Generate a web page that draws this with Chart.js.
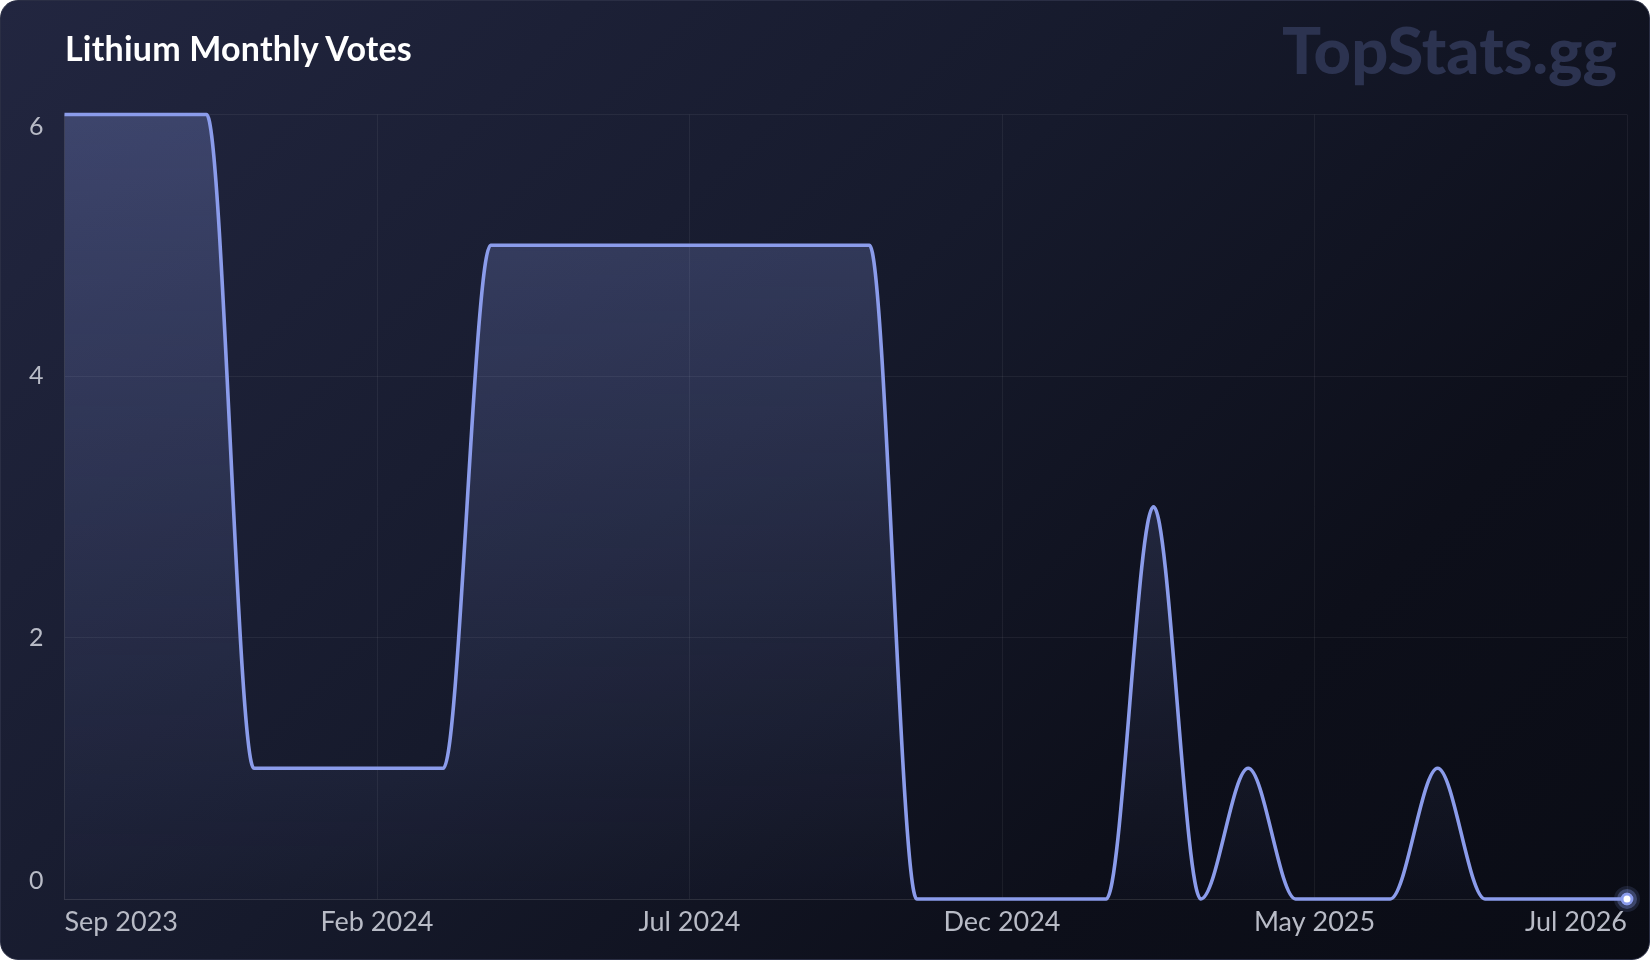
<!DOCTYPE html>
<html>
<head>
<meta charset="utf-8">
<script src="https://cdn.jsdelivr.net/npm/chart.js@4.4.1/dist/chart.umd.min.js"></script>
<style>
  html, body { margin: 0; padding: 0; background: #ffffff; }
  #card {
    position: absolute; left: 0; top: 0; width: 1650px; height: 960px;
    box-sizing: border-box; border-radius: 18px; overflow: hidden;
    border: 1.5px solid #2a2e44;
    background: linear-gradient(135deg, #222640 0%, #161a2c 45%, #0d0f1a 75%, #0a0c15 100%);
  }
  #title {
    position: absolute; left: 64px; top: 27px; margin: 0;
    font-family: Lato, sans-serif; font-weight: 700; font-size: 34px; line-height: 1.2;
    letter-spacing: 0.2px;
    color: #ffffff; white-space: nowrap;
  }
  #brand {
    position: absolute; right: 32px; top: 9px;
    font-family: Lato, sans-serif; font-weight: 900; font-size: 65px; line-height: 1.2;
    color: #2c3350; white-space: nowrap;
  }
  #chartWrap { position: absolute; left: 0; top: 0; width: 1650px; height: 960px; }
</style>
</head>
<body>
<div id="card">
  <div id="chartWrap"><canvas id="c" width="1650" height="960"></canvas></div>
  <div id="title">Lithium Monthly Votes</div>
  <div id="brand">TopStats.gg</div>
</div>
<script>
// ---- data ----
const chartTitle = 'Lithium Monthly Votes';
const votes = [6, 6, 6, 6, 1, 1, 1, 1, 1, 5, 5, 5, 5, 5, 5, 5, 5, 5, 0, 0, 0, 0, 0, 3, 0, 1, 0, 0, 0, 1, 0, 0, 0, 0];
const xTickLabels = ['Sep 2023', 'Feb 2024', 'Jul 2024', 'Dec 2024', 'May 2025', 'Jul 2026'];
const yTickValues = [0, 2, 4, 6];

const lineColor = '#8b9ceb';
const lastIndex = votes.length - 1;
const points = votes.map((v, i) => ({ x: i, y: v }));

const ctx = document.getElementById('c').getContext('2d');
new Chart(ctx, {
  type: 'line',
  data: {
    datasets: [
      {
        data: points,
        borderColor: lineColor,
        borderWidth: 3.6,
        cubicInterpolationMode: 'monotone',
        fill: 'origin',
        backgroundColor: (c) => {
          const area = c.chart.chartArea;
          if (!area) return 'rgba(138,155,232,0.2)';
          const g = c.chart.ctx.createLinearGradient(0, area.top, 0, area.bottom);
          g.addColorStop(0, 'rgba(138,155,232,0.28)');
          g.addColorStop(1, 'rgba(138,155,232,0.02)');
          return g;
        },
        pointRadius: points.map((p, i) => i === lastIndex ? 5 : 0),
        pointBackgroundColor: '#ffffff',
        pointBorderColor: lineColor,
        pointBorderWidth: 3,
        clip: false,
        order: 0
      },
      {
        data: [points[lastIndex]],
        showLine: false,
        pointRadius: 10,
        pointBackgroundColor: 'rgba(138,155,232,0.32)',
        pointBorderColor: 'rgba(138,155,232,0.14)',
        pointBorderWidth: 6,
        clip: false,
        order: 1
      }
    ]
  },
  options: {
    responsive: false,
    animation: false,
    events: [],
    layout: { autoPadding: false, padding: { left: 0, right: 24, top: 113.5, bottom: 0 } },
    plugins: { legend: { display: false }, tooltip: { enabled: false }, title: { display: false } },
    scales: {
      x: {
        type: 'linear',
        min: 0,
        max: lastIndex,
        afterBuildTicks: (s) => {
          s.ticks = xTickLabels.map((lab, k) => ({ value: k * lastIndex / (xTickLabels.length - 1) }));
        },
        afterFit: (s) => { s.height = 62; },
        grid: { color: 'rgba(255,255,255,0.06)', drawTicks: false, lineWidth: 1 },
        border: { color: 'rgba(255,255,255,0.07)' },
        ticks: {
          align: 'inner',
          maxRotation: 0,
          autoSkip: false,
          padding: 7,
          color: '#b8bbc6',
          font: { family: 'Lato', size: 27 },
          callback: (v, i) => xTickLabels[i]
        }
      },
      y: {
        min: 0,
        max: 6,
        afterBuildTicks: (s) => { s.ticks = yTickValues.map(v => ({ value: v })); },
        afterFit: (s) => { s.width = 63.5; },
        grid: { color: 'rgba(255,255,255,0.06)', drawTicks: false, lineWidth: 1 },
        border: { color: 'rgba(255,255,255,0.07)' },
        ticks: {
          padding: 21,
          color: '#b8bbc6',
          font: { family: 'Lato', size: 25, lineHeight: '12px' },
          callback: (v) => {
            if (v === 6) return ['', '', String(v)];
            if (v === 0) return [String(v), '', '', ''];
            return String(v);
          }
        }
      }
    }
  }
});
</script>
</body>
</html>
